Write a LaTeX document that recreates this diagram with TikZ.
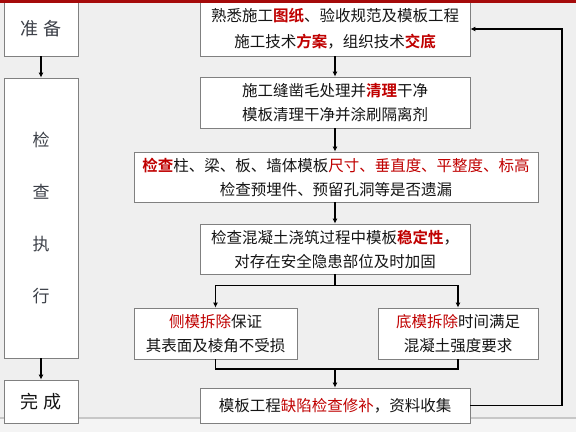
\documentclass[tikz,border=0pt]{standalone}
\usepackage{fontspec}
\setmainfont{Noto Sans CJK SC}[BoldFont={Noto Sans CJK SC Bold}]
\usepackage{xcolor}
\usetikzlibrary{arrows.meta,positioning}
\definecolor{pgbg}{HTML}{EFEFEF}
\definecolor{pgframe}{HTML}{808080}
\definecolor{pgtext}{HTML}{151515}
\definecolor{pgside}{HTML}{3C4048}
\definecolor{pgred}{HTML}{C00000}
\definecolor{pgbar}{HTML}{A50A0A}
\definecolor{pgfoot}{HTML}{F4F4F4}
\newcommand{\hl}[1]{\textbf{\color{pgred}#1}}
\newcommand{\rd}[1]{{\color{pgred}#1}}
\tikzset{
  box/.style={draw=pgframe,fill=white,line width=0.8pt,align=center,inner sep=2pt,font=\fontsize{15.5}{24}\selectfont,text=pgtext},
  side/.style={box,minimum width=74pt,font=\fontsize{18}{24}\selectfont,text=pgside},
  ar/.style={-{Latex[length=5pt,width=5pt]},draw=black,line width=1.2pt},
  ln/.style={draw=black,line width=1.2pt},
}

\begin{document}
\begin{tikzpicture}[x=1pt,y=-1pt]
\useasboundingbox (0,0) rectangle (576,432);
% page background
\fill[pgbg] (0,0) rectangle (576,432);
\fill[pgfoot] (0,419) rectangle (576,432);
\draw[line width=2pt,black!22] (0,418) -- (576,418);
% left column
\node[side,minimum height=54pt] (prep) at (41,29) {准\hspace{6pt}备};
\node[side,minimum height=280pt,font=\fontsize{17}{52}\selectfont] (exec) at (41,218) {检\\查\\执\\行};
\node[side,minimum height=43pt,text=pgtext] (done) at (41,401.5) {完\hspace{6pt}成};
\draw[ar] (prep) -- (exec);
\draw[ar] (exec) -- (done);
% main steps
\node[box,minimum width=270pt,minimum height=54pt,font=\fontsize{15.5}{26}\selectfont] (s1) at (335,29)
 {熟悉施工\hl{图纸}、验收规范及模板工程\\施工技术\hl{方案}，组织技术\hl{交底}};
\node[box,minimum width=270pt,minimum height=51pt] (s2) at (335,102.5)
 {施工缝凿毛处理并\hl{清理}干净\\模板清理干净并涂刷隔离剂};
\node[box,minimum width=404pt,minimum height=50pt] (s3) at (336,177)
 {\hl{检查}柱、梁、板、墙体模板\rd{尺寸、垂直度、平整度、标高}\\检查预埋件、预留孔洞等是否遗漏};
\node[box,minimum width=270pt,minimum height=50pt] (s4) at (335,249)
 {检查混凝土浇筑过程中模板\hl{稳定性}，\\对存在安全隐患部位及时加固};
\node[box,minimum width=163pt,minimum height=51pt] (s5) at (215.5,333.5)
 {\rd{侧模拆除}保证\\其表面及棱角不受损};
\node[box,minimum width=160pt,minimum height=51pt] (s6) at (458,333.5)
 {\rd{底模拆除}时间满足\\混凝土强度要求};
\node[box,minimum width=270pt,minimum height=35pt] (s7) at (335,405.5)
 {模板工程\rd{缺陷检查修补}，资料收集};
\coordinate (mrg) at (335,369);
\coordinate (back) at (562,29);
% connectors
\draw[ar] (s1) -- (s2);
\draw[ar] (s2) -- (s3.north -| s2.south);
\draw[ar] (s3.south -| s4.north) -- (s4);
\draw[ar] (s4.south) -- ++(0,11) -| (s5.north);
\draw[ar] (s4.south) -- ++(0,11) -| (s6.north);
\draw[ln] (s5.south) |- (mrg) -| (s6.south);
\draw[ar] (mrg) -- (s7.north);
\draw[ar] (s7.east) -| (back) -- (s1.east);
% top bar
\fill[pgbar] (0,0) rectangle (576,2.5);
\end{tikzpicture}
\end{document}
